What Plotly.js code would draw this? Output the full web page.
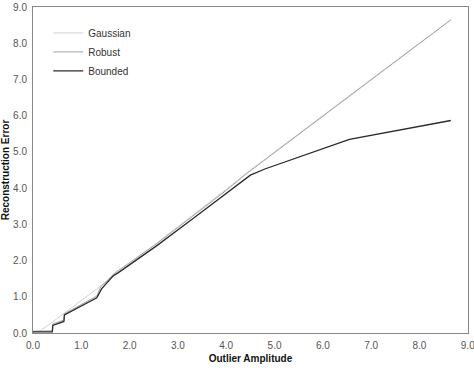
<!DOCTYPE html>
<html>
<head>
<meta charset="utf-8">
<script src="https://cdn.plot.ly/plotly-3.0.1.min.js"></script>
<style>html,body{margin:0;padding:0;background:#fff;}#chart{width:474px;height:368px;}</style>
</head>
<body>
<div id="chart"></div>
<script>
const gaussianX = [0.0, 0.15, 0.4, 0.7, 1.0, 1.5, 2.0, 2.5, 3.0, 3.5, 4.0, 4.5, 5.5, 6.5, 7.5, 8.65];
const gaussianY = [0.03, 0.06, 0.3, 0.6, 0.88, 1.38, 1.9, 2.42, 2.93, 3.45, 3.97, 4.5, 5.51, 6.51, 7.51, 8.65];

const robustX = [0.0, 0.4, 0.41, 0.64, 0.65, 1.32, 1.4, 1.6, 1.66, 1.76, 2.55, 3.3, 4.0, 4.4, 5.5, 6.5, 7.5, 8.65];
const robustY = [0.05, 0.06, 0.25, 0.36, 0.53, 1.02, 1.27, 1.54, 1.62, 1.72, 2.46, 3.22, 3.94, 4.38, 5.49, 6.5, 7.5, 8.65];

const boundedX = [0.0, 0.4, 0.41, 0.64, 0.65, 1.32, 1.42, 1.6, 1.66, 1.76, 2.55, 3.3, 4.0, 4.35, 4.5, 4.8, 6.55, 8.65];
const boundedY = [0.03, 0.03, 0.21, 0.32, 0.5, 0.97, 1.22, 1.5, 1.58, 1.66, 2.4, 3.15, 3.85, 4.22, 4.36, 4.53, 5.35, 5.87];

const tickVals = [0, 1, 2, 3, 4, 5, 6, 7, 8, 9];
const tickText = ['0.0', '1.0', '2.0', '3.0', '4.0', '5.0', '6.0', '7.0', '8.0', '9.0'];

const traces = [
  {x: gaussianX, y: gaussianY, name: 'Gaussian', mode: 'lines', line: {color: '#d2d2d2', width: 1}},
  {x: robustX, y: robustY, name: 'Robust', mode: 'lines', line: {color: '#a4a4a4', width: 1}},
  {x: boundedX, y: boundedY, name: 'Bounded', mode: 'lines', line: {color: '#2a2a2a', width: 1.3}}
];

const axisCommon = {
  range: [0, 9.005],
  tickvals: tickVals,
  ticktext: tickText,
  showgrid: false,
  zeroline: false,
  showline: true,
  mirror: true,
  linecolor: '#888',
  linewidth: 1,
  ticks: 'outside',
  ticklen: 3,
  tickcolor: 'rgba(0,0,0,0)',
  ticklabeloverflow: 'allow',
  tickfont: {family: 'Liberation Sans, Arial, sans-serif', size: 10, color: '#555'},
  automargin: false
};

const layout = {
  width: 474,
  height: 368,
  margin: {l: 33, r: 6, t: 7, b: 35},
  paper_bgcolor: '#fff',
  plot_bgcolor: '#fff',
  showlegend: true,
  legend: {
    x: 0.035, y: 0.965, xanchor: 'left', yanchor: 'top',
    bgcolor: 'rgba(0,0,0,0)', borderwidth: 0,
    font: {family: 'Liberation Sans, Arial, sans-serif', size: 10, color: '#333'},
    tracegroupgap: 0
  },
  xaxis: Object.assign({}, axisCommon, {
    title: {text: 'Outlier Amplitude', standoff: 4,
      font: {family: 'Liberation Sans, Arial, sans-serif', size: 10, color: '#111', weight: 'bold'}}
  }),
  yaxis: Object.assign({}, axisCommon, {
    title: {text: 'Reconstruction Error', standoff: 6,
      font: {family: 'Liberation Sans, Arial, sans-serif', size: 10, color: '#111', weight: 'bold'}}
  })
};

Plotly.newPlot('chart', traces, layout, {displayModeBar: false, staticPlot: true});
</script>
</body>
</html>
